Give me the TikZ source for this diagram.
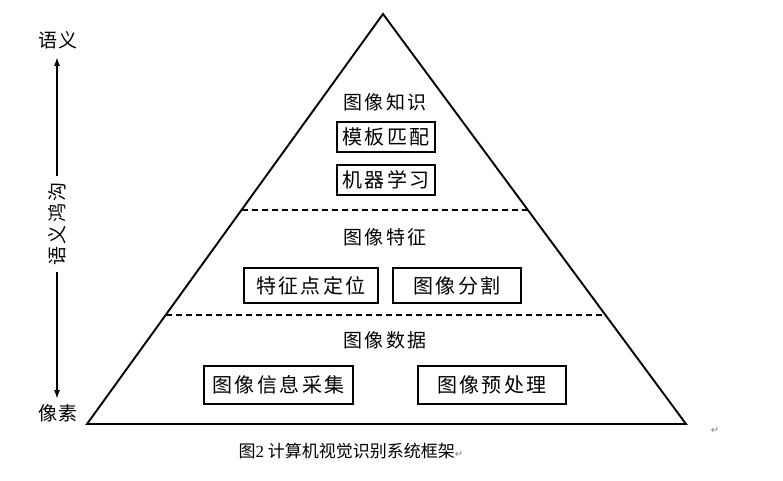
\documentclass[tikz,border=0pt]{standalone}
\usepackage{fontspec}
\setmainfont{Noto Sans CJK SC}
\newfontfamily\symfont{DejaVu Sans}
\newfontfamily\numfont{Liberation Serif}
\usetikzlibrary{arrows.meta}
\begin{document}
\begin{tikzpicture}[x=1pt,y=-1pt,
  lvl/.style={inner sep=0pt,font=\fontsize{19}{22}\selectfont\addfontfeature{LetterSpace=12}},
  boxed/.style={draw,line width=1.7pt,inner sep=0pt,align=center,
    font=\fontsize{20}{22}\selectfont\addfontfeature{LetterSpace=12}},
  side/.style={inner sep=0pt,font=\fontsize{19}{22}\selectfont\addfontfeature{LetterSpace=10}},
  gap/.style={-{Latex[length=9pt,width=6pt]},line width=1.5pt},
  sep/.style={dashed,dash pattern=on 6pt off 4pt,line width=1.5pt},
  ret/.style={text=gray,inner sep=0pt,font=\symfont\fontsize{10}{11}\selectfont}
]
\useasboundingbox (0,0) rectangle (783,481);
% pyramid
\draw[line width=1.9pt,line join=miter] (383,14) -- (686,424) -- (87,424) -- cycle;
\draw[sep] (242,210) -- (527,210);
\draw[sep] (166,315) -- (605,315);
% level titles
\node[lvl] (k) at (385,102) {图像知识};
\node[lvl] (f) at (385,237) {图像特征};
\node[lvl] (d) at (385,340) {图像数据};
% boxes
\node[boxed,minimum width=98pt,minimum height=30pt] (b1) at (386,137) {模板匹配};
\node[boxed,minimum width=98pt,minimum height=30pt] (b2) at (386,180) {机器学习};
\node[boxed,minimum width=134pt,minimum height=35pt] (b3) at (311,285.5) {特征点定位};
\node[boxed,minimum width=128pt,minimum height=35pt] (b4) at (457,285.5) {图像分割};
\node[boxed,minimum width=149pt,minimum height=38pt] (b5) at (278.5,385) {图像信息采集};
\node[boxed,minimum width=148pt,minimum height=38pt] (b6) at (492,385) {图像预处理};
% side axis
\node[side] (top) at (58,40) {语义};
\node[side] (bot) at (58,413) {像素};
\node[side,rotate=90,inner sep=6pt,font=\fontsize{19}{22}\selectfont\addfontfeature{LetterSpace=14}] (mid) at (57,224) {语义鸿沟};
\coordinate (up) at (57,57);
\coordinate (dn) at (57,399);
\draw[gap] (mid.east) -- (up);
\draw[gap] (mid.west) -- (dn);
% caption
\node[inner sep=0pt,font=\fontsize{17}{20}\selectfont] (cap) at (351,451)
  {图{\numfont 2} 计算机视觉识别系统框架{\color{gray}\symfont\fontsize{10}{11}\selectfont ↵}};
\node[ret] (r) at (715,430) {↵};
\end{tikzpicture}
\end{document}
